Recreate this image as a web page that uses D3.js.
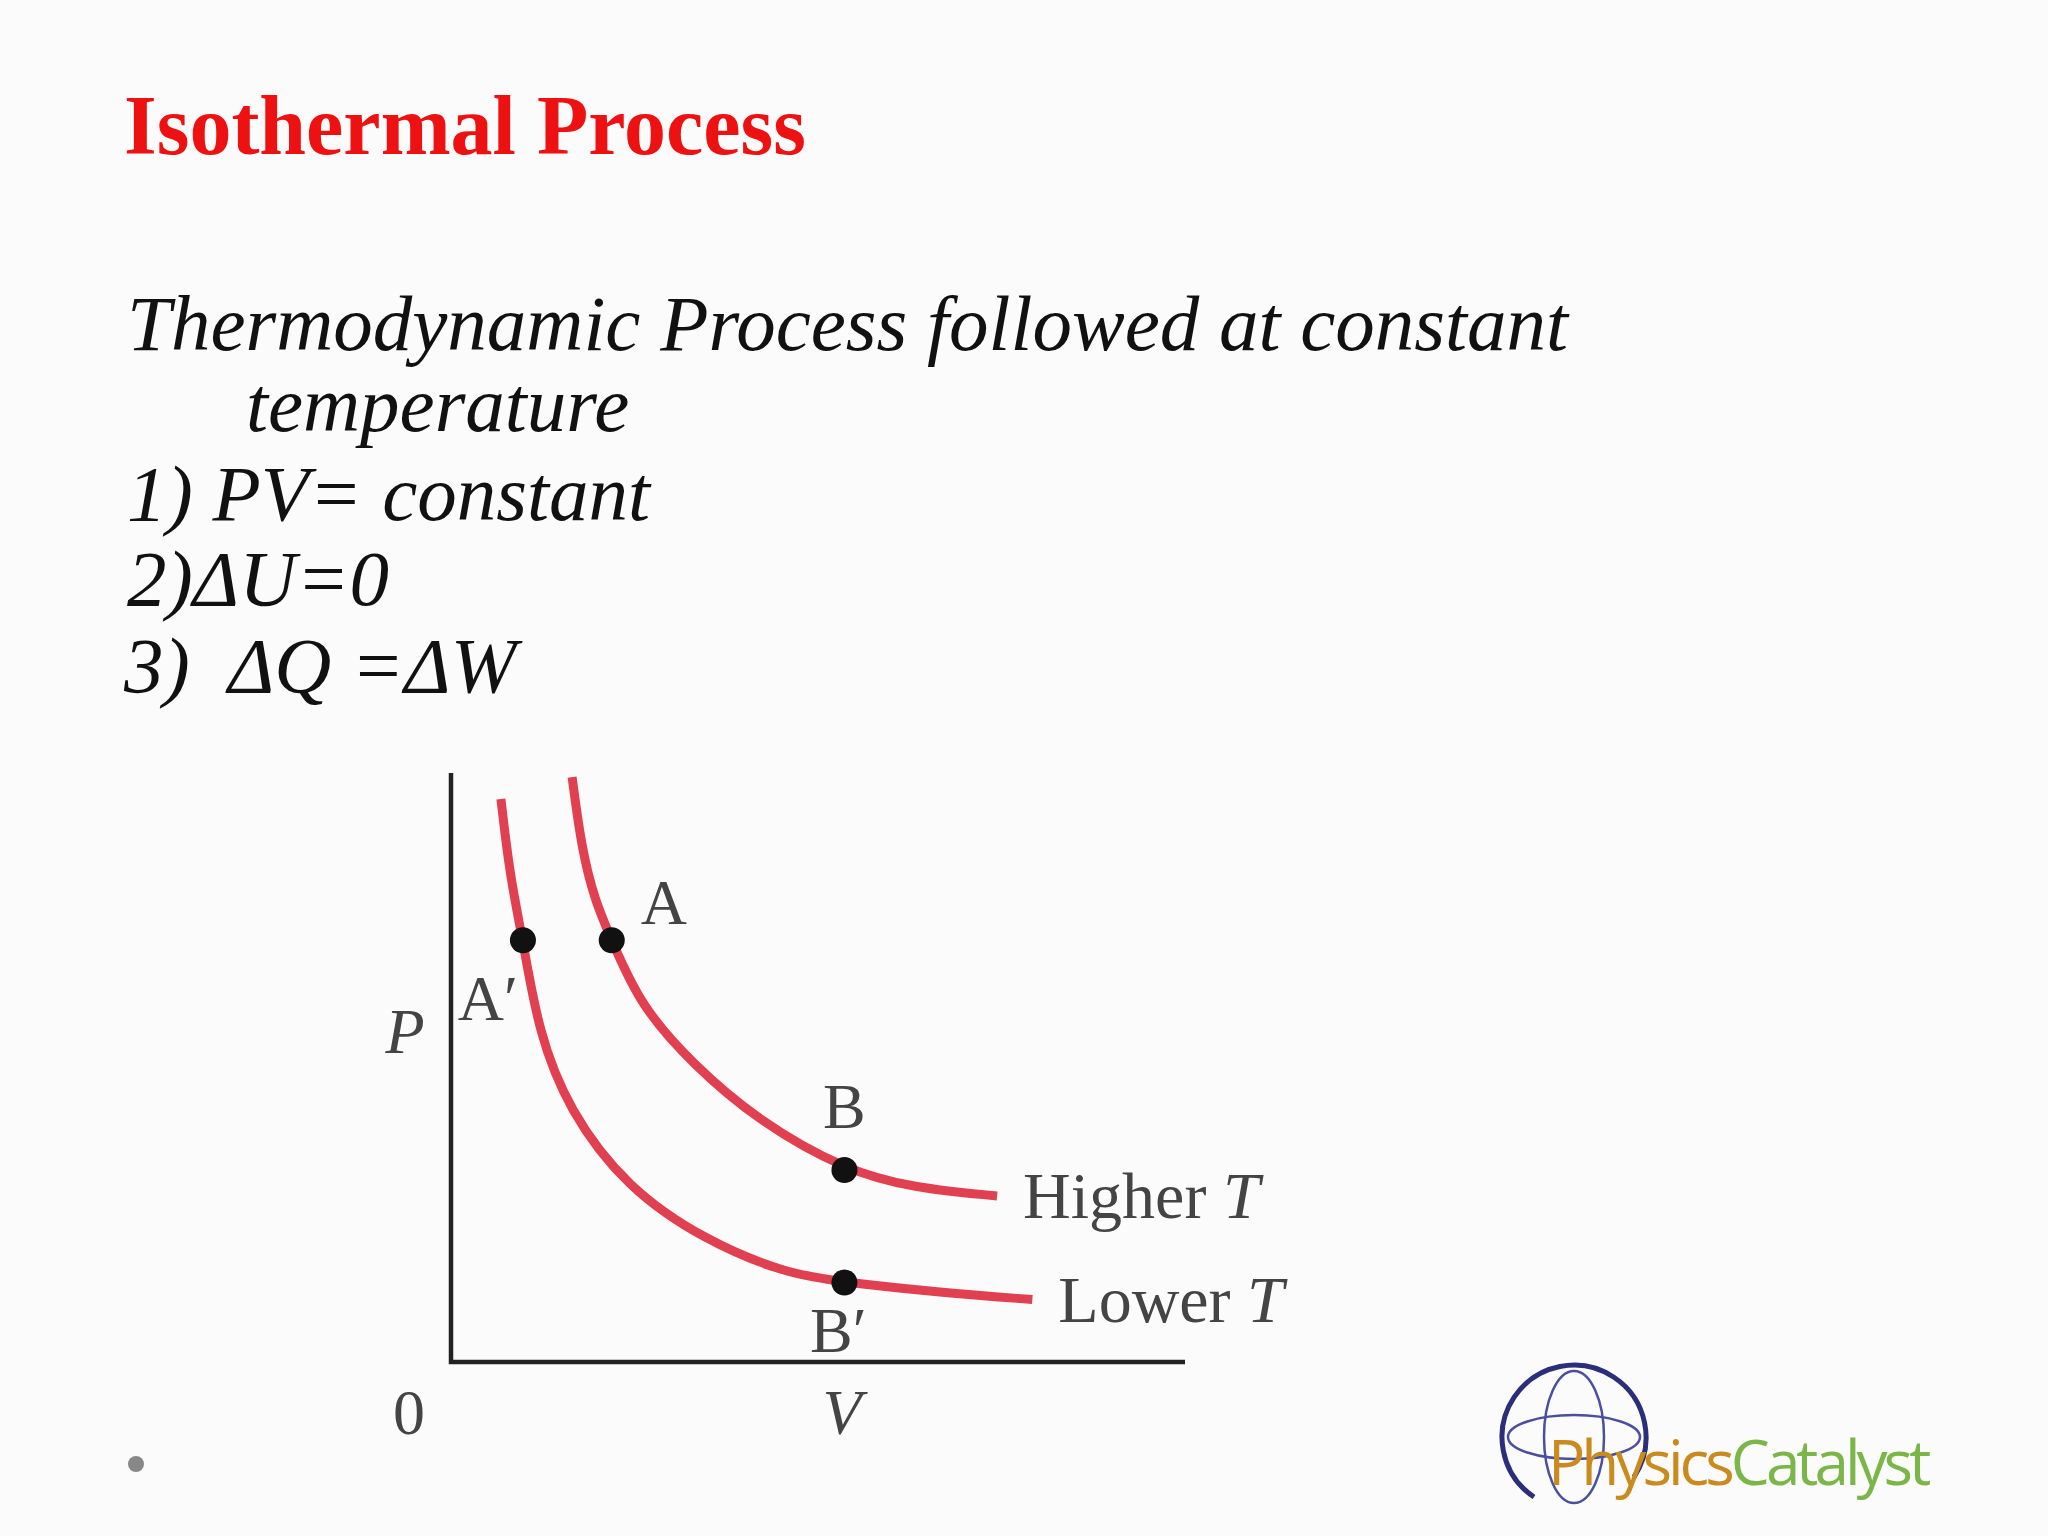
<!DOCTYPE html>
<html><head><meta charset="utf-8">
<script src="https://cdn.jsdelivr.net/npm/d3@7"></script>
<style>body{margin:0;background:#fcfbfc}</style></head>
<body><svg id="c" width="2048" height="1536"></svg>
<script>
const higherT = [[1.65,9.93],[1.78,8.71],[1.96,7.83],[2.19,7.16],[2.58,6.05],[3.29,5.06],[4.18,4.10],[5.36,3.26],[6.32,2.95],[7.44,2.82]];
const lowerT = [[0.68,9.56],[0.80,8.27],[0.98,7.16],[1.19,5.61],[1.60,4.28],[2.40,2.95],[3.47,2.06],[4.54,1.51],[5.36,1.35],[6.67,1.18],[7.92,1.06]];
const states = [{n:"A",v:2.19,p:7.16},{n:"B",v:5.36,p:3.26},{n:"A′",v:0.98,p:7.16},{n:"B′",v:5.36,p:1.35}];
const lines = ["Thermodynamic Process followed at constant","temperature","1) PV= constant","2)ΔU=0","3)  ΔQ =ΔW"];

const s = d3.select("#c");
s.append("rect").attr("width",2048).attr("height",1536).attr("fill","#fcfbfc");
s.append("text").attr("x",124).attr("y",154).attr("font-family","Liberation Serif").attr("font-weight","bold")
 .attr("font-size",84).attr("fill","#ee1111").text("Isothermal Process");
const lx=[127,246,127,127,124], ly=[350,431,520,605,692];
lines.forEach((t,i)=>s.append("text").attr("x",lx[i]).attr("y",ly[i]).attr("font-family","Liberation Serif")
 .attr("font-style","italic").attr("font-size",79).attr("fill","#111").style("white-space","pre").text(t));

const x = d3.scaleLinear().domain([0,10]).range([451,1185]);
const y = d3.scaleLinear().domain([0,10]).range([1362,773]);
s.append("path").attr("d",`M${x(0)},${y(10)}V${y(0)}H${x(10)}`).attr("fill","none").attr("stroke","#222").attr("stroke-width",4.5);
const line = d3.line().x(d=>x(d[0])).y(d=>y(d[1])).curve(d3.curveBasis);
[higherT,lowerT].forEach(d=>s.append("path").attr("d",line(d)).attr("fill","none").attr("stroke","#e0404f").attr("stroke-width",9));
states.forEach(d=>s.append("circle").attr("cx",x(d.v)).attr("cy",y(d.p)).attr("r",13).attr("fill","#111"));
const lab=(t,X,Y,it)=>s.append("text").attr("x",X).attr("y",Y).attr("font-family","Liberation Serif")
 .attr("font-size",64).attr("fill","#444").attr("font-style",it?"italic":"normal").attr("text-anchor","middle").text(t);
lab("A",x(2.19)+52,y(7.16)-16);
lab("A′",x(0.98)-35,y(7.16)+80);
lab("B",x(5.36),y(3.26)-42);
lab("B′",x(5.36)-6,y(1.35)+70);
lab("P",405,1053,true);
lab("0",409,1434);
lab("V",842,1434,true);
s.append("text").attr("x",x(7.44)+26).attr("y",y(2.82)+22).attr("font-family","Liberation Serif").attr("font-size",66).attr("fill","#444")
 .text("Higher ").append("tspan").attr("font-style","italic").text("T");
s.append("text").attr("x",x(7.92)+26).attr("y",y(1.06)+22).attr("font-family","Liberation Serif").attr("font-size",66).attr("fill","#444")
 .text("Lower ").append("tspan").attr("font-style","italic").text("T");

s.append("circle").attr("cx",136).attr("cy",1464).attr("r",8).attr("fill","#888");
const g=s.append("g").attr("transform","translate(1574,1437)");
g.append("path").attr("d","M-40,60 A72,72 0 1 1 60,40").attr("fill","none").attr("stroke","#2b2f7a").attr("stroke-width",5);
g.append("ellipse").attr("rx",30).attr("ry",66).attr("fill","none").attr("stroke","#4a4f9f").attr("stroke-width",2.5);
g.append("ellipse").attr("rx",66).attr("ry",22).attr("fill","none").attr("stroke","#4a4f9f").attr("stroke-width",2.5);
s.append("text").attr("x",1548).attr("y",1485).attr("font-family","Open Sans").attr("font-size",62).attr("letter-spacing",-4)
 .attr("fill","#c98a1e").text("Physics").append("tspan").attr("fill","#7ab648").text("Catalyst");
</script></body></html>
